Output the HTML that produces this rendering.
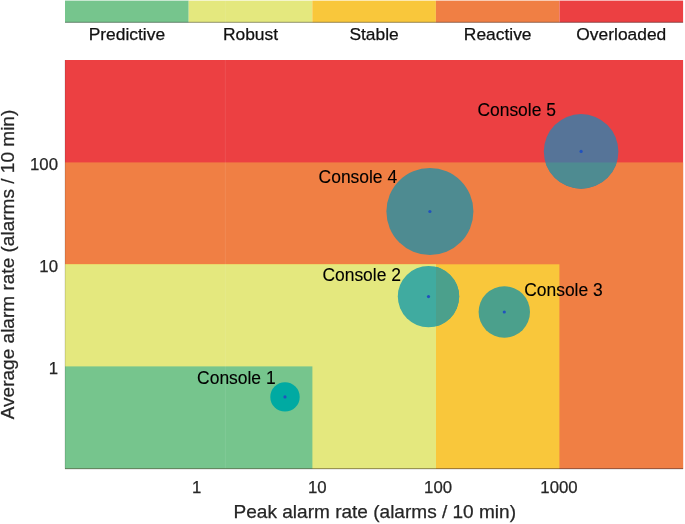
<!DOCTYPE html>
<html>
<head>
<meta charset="utf-8">
<title>Alarm performance chart</title>
<style>
html,body{margin:0;padding:0;background:#fff;}
body{width:685px;height:524px;overflow:hidden;}
svg{display:block;}
text{font-family:"Liberation Sans",Arial,Helvetica,sans-serif;}
.tick{font-size:16.8px;fill:#262626;stroke:#262626;stroke-width:0.25px;}
.lab{font-size:19.05px;fill:#262626;stroke:#262626;stroke-width:0.25px;}
.con{font-size:17.45px;fill:#000;stroke:#000;stroke-width:0.12px;}
.leg{font-size:17.4px;fill:#111;stroke:#111;stroke-width:0.25px;}
</style>
</head>
<body>
<svg width="685" height="524" viewBox="0 0 685 524">
<defs>
<clipPath id="cgold"><rect x="436" y="264.3" width="123.4" height="204.2"/></clipPath>
<clipPath id="corange"><rect x="65" y="162.4" width="618" height="306"/></clipPath>
</defs>
<rect x="0" y="0" width="685" height="524" fill="#ffffff"/>
<!-- legend bar -->
<g>
<rect x="65" y="0.6" width="123.7" height="21.9" fill="#76c58d"/>
<rect x="188.7" y="0.6" width="123.6" height="21.9" fill="#e4e87e"/>
<rect x="312.3" y="0.6" width="123.6" height="21.9" fill="#f9c73b"/>
<rect x="435.9" y="0.6" width="123.6" height="21.9" fill="#f07f44"/>
<rect x="559.5" y="0.6" width="123.6" height="21.9" fill="#ec4042"/>
<line x1="65" y1="22.3" x2="683.1" y2="22.3" stroke="#262626" stroke-opacity="0.45" stroke-width="1"/>
</g>
<g class="leg" text-anchor="middle">
<text x="126.9" y="40">Predictive</text>
<text x="250.5" y="40">Robust</text>
<text x="374.1" y="40">Stable</text>
<text x="497.7" y="40">Reactive</text>
<text x="621.3" y="40">Overloaded</text>
</g>
<!-- plot zones -->
<rect x="65" y="60" width="618.1" height="408.8" fill="#ec4042"/>
<rect x="65" y="162.4" width="618.1" height="306.4" fill="#f07f44"/>
<rect x="65" y="264.3" width="494.4" height="204.5" fill="#f9c73b"/>
<rect x="65" y="264.3" width="371" height="204.5" fill="#e4e87e"/>
<rect x="65" y="366.4" width="247.4" height="102.4" fill="#76c58d"/>
<!-- seam -->
<line x1="225.4" y1="0.6" x2="225.4" y2="22.5" stroke="#fff" stroke-opacity="0.07" stroke-width="1.2"/>
<line x1="225.4" y1="60" x2="225.4" y2="468.5" stroke="#fff" stroke-opacity="0.07" stroke-width="1.2"/>
<!-- bubbles -->
<circle cx="285" cy="396.9" r="14.7" fill="#00aaa2"/>
<circle cx="428.5" cy="296.6" r="30.7" fill="#40aba0"/>
<circle cx="428.5" cy="296.6" r="30.7" fill="#4ba08c" clip-path="url(#cgold)"/>
<circle cx="504.3" cy="312" r="25.7" fill="#4ba08c"/>
<circle cx="429.9" cy="211.5" r="43.5" fill="#4e8b91"/>
<circle cx="581.1" cy="151.4" r="37.3" fill="#567498"/>
<circle cx="581.1" cy="151.4" r="37.3" fill="#4e8b91" clip-path="url(#corange)"/>
<g fill="#2152be">
<circle cx="285" cy="396.9" r="1.6"/>
<circle cx="428.5" cy="296.6" r="1.6"/>
<circle cx="504.3" cy="312" r="1.6"/>
<circle cx="429.9" cy="211.5" r="1.6"/>
<circle cx="581.1" cy="151.4" r="1.6"/>
</g>
<!-- axes lines -->
<line x1="65" y1="468.7" x2="683.1" y2="468.7" stroke="#262626" stroke-opacity="0.4" stroke-width="1.3"/>
<line x1="65.1" y1="60" x2="65.1" y2="468.7" stroke="#262626" stroke-opacity="0.3" stroke-width="0.6"/>
<!-- console labels -->
<g class="con">
<text x="197.1" y="383.7">Console 1</text>
<text x="322.4" y="281.4">Console 2</text>
<text x="524.2" y="295.7">Console 3</text>
<text x="318.6" y="183.1">Console 4</text>
<text x="477.4" y="116.3">Console 5</text>
</g>
<!-- ticks -->
<g class="tick" text-anchor="middle">
<text x="196.6" y="492.7">1</text>
<text x="317.3" y="492.7">10</text>
<text x="438.1" y="492.7">100</text>
<text x="559" y="492.7">1000</text>
</g>
<g class="tick" text-anchor="end">
<text x="58" y="169.6">100</text>
<text x="58" y="271.6">10</text>
<text x="58" y="373.7">1</text>
</g>
<text class="lab" text-anchor="middle" x="374.8" y="518.4">Peak alarm rate (alarms / 10 min)</text>
<text class="lab" text-anchor="middle" transform="translate(14.4,264.5) rotate(-90)">Average alarm rate (alarms / 10 min)</text>
</svg>
</body>
</html>
